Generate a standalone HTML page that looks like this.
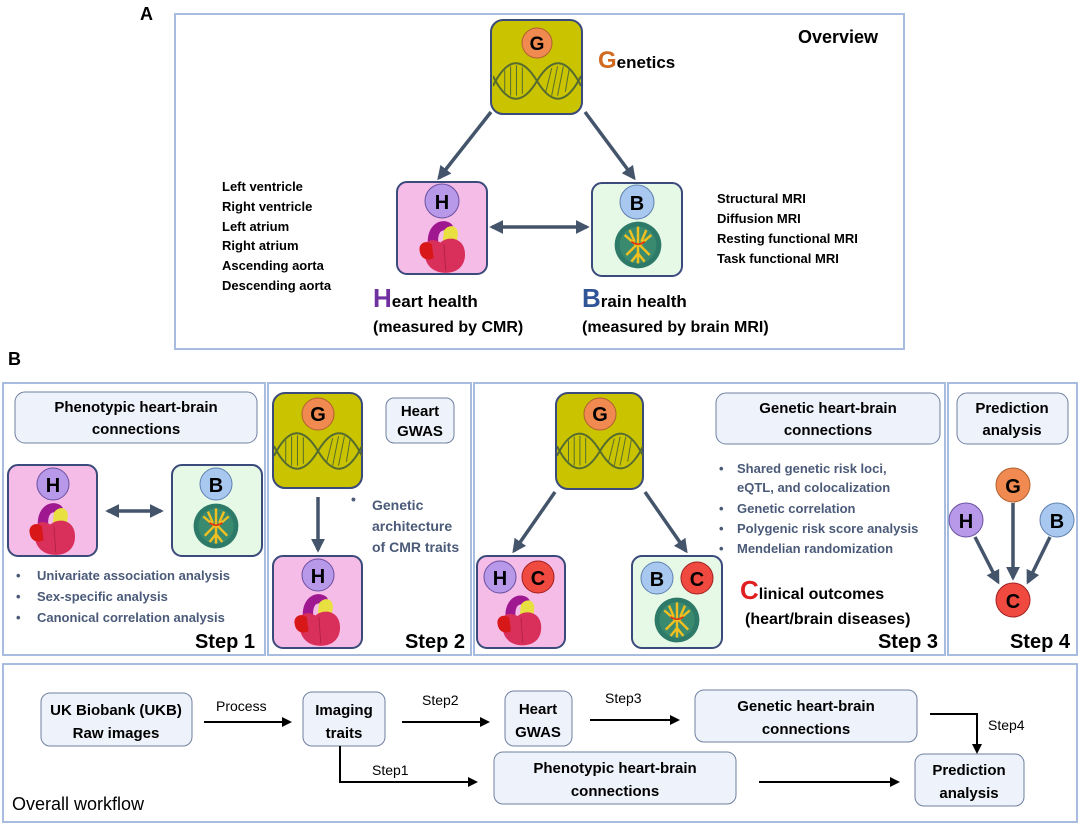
<!DOCTYPE html>
<html><head><meta charset="utf-8"><style>
body{margin:0;background:#fff}
svg{display:block;font-family:"Liberation Sans",sans-serif}
.b{font-weight:bold}
</style></head><body>
<svg width="1080" height="826" viewBox="0 0 1080 826" xmlns="http://www.w3.org/2000/svg">
<defs>
<marker id="ah" viewBox="0 0 10 10" refX="8" refY="5" markerWidth="4" markerHeight="4" orient="auto-start-reverse"><path d="M0,0L10,5L0,10z" fill="#44546a"/></marker>
<marker id="ak" viewBox="0 0 10 10" refX="8" refY="5" markerWidth="5" markerHeight="5" orient="auto"><path d="M0,0L10,5L0,10z" fill="#000"/></marker>
<symbol id="heart" viewBox="0 0 60 64">
<path d="M12,34 C8,12 22,0 34,4 C40,6 42,10 40,16 L30,14 C24,14 22,22 24,34 Z" fill="#a01890"/>
<path d="M30,14 C36,6 46,8 46,18 L44,34 L28,32 Z" fill="#e8e040"/>
<path d="M8,36 C6,26 16,22 26,28 C34,20 52,22 54,38 C56,54 46,63 32,63 C16,63 6,52 8,36Z" fill="#d8305a"/>
<path d="M2,38 C0,30 8,24 16,30 L18,46 C10,50 3,46 2,38Z" fill="#d81818"/>
<path d="M30,30 L32,60" stroke="#b02048" stroke-width="1" fill="none"/>
</symbol>
<symbol id="brain" viewBox="0 0 60 60">
<circle cx="30" cy="30" r="28" fill="#2e7a68"/>
<circle cx="30" cy="30" r="22" fill="#3a8a70"/>
<path d="M30,8 L30,52 M14,18 L28,30 L16,42 M46,18 L32,30 L44,42 M20,12 L26,26 M40,12 L34,26 M22,50 L30,40 L38,50" stroke="#f0c020" stroke-width="3" fill="none"/>
<path d="M22,26 Q30,32 38,26" stroke="#e03010" stroke-width="2" fill="none"/>
</symbol>
<symbol id="dna" viewBox="0 0 90 50">
<path d="M0,30 C15,0 30,0 45,25 C60,50 75,50 90,20" stroke="#556b2f" stroke-width="2" fill="none"/>
<path d="M0,20 C15,50 30,50 45,25 C60,0 75,0 90,30" stroke="#556b2f" stroke-width="2" fill="none"/>
<path d="M12,14 L12,36 M18,10 L18,40 M24,9 L24,40 M30,11 L30,38 M60,12 L54,36 M66,10 L60,40 M72,10 L66,40 M78,12 L74,36" stroke="#556b2f" stroke-width="1"/>
</symbol>
</defs>

<!-- Panel A -->
<text x="140" y="20" class="b" font-size="18">A</text>
<rect x="175" y="14" width="729" height="335" fill="none" stroke="#a8bce0" stroke-width="2"/>
<text x="798" y="43" class="b" font-size="18">Overview</text>
<rect x="491" y="20" width="91" height="94" rx="12" fill="#c9c300" stroke="#3a4a7a" stroke-width="2"/>
<use href="#dna" x="493" y="55" width="88" height="52"/>
<circle cx="537" cy="43" r="15" fill="#f08a50" stroke="#b06030"/>
<text x="537" y="50" text-anchor="middle" font-size="19" class="b">G</text>
<text x="598" y="68"><tspan fill="#d06a20" font-size="24" class="b">G</tspan><tspan font-size="17" class="b">enetics</tspan></text>
<line x1="491" y1="112" x2="439" y2="178" stroke="#44546a" stroke-width="3.5" marker-end="url(#ah)"/>
<line x1="585" y1="112" x2="634" y2="178" stroke="#44546a" stroke-width="3.5" marker-end="url(#ah)"/>
<rect x="397" y="182" width="90" height="92" rx="10" fill="#f6bce8" stroke="#3a4a7a" stroke-width="2"/>
<circle cx="442" cy="201" r="17" fill="#b898e8" stroke="#6a50a0"/>
<text x="442" y="209" text-anchor="middle" font-size="20" class="b">H</text>
<use href="#heart" x="418" y="218" width="52" height="56"/>
<rect x="592" y="183" width="90" height="93" rx="10" fill="#e6f8e6" stroke="#3a4a7a" stroke-width="2"/>
<circle cx="637" cy="202" r="17" fill="#a8c8f0" stroke="#6080b0"/>
<text x="637" y="210" text-anchor="middle" font-size="20" class="b">B</text>
<use href="#brain" x="613" y="220" width="50" height="50"/>
<line x1="492" y1="227" x2="587" y2="227" stroke="#44546a" stroke-width="3.5" marker-start="url(#ah)" marker-end="url(#ah)"/>
<g class="b" font-size="13">
<text x="222" y="191">Left ventricle</text><text x="222" y="211">Right ventricle</text><text x="222" y="231">Left atrium</text>
<text x="222" y="250">Right atrium</text><text x="222" y="270">Ascending aorta</text><text x="222" y="290">Descending aorta</text>
<text x="717" y="203">Structural MRI</text><text x="717" y="223">Diffusion MRI</text><text x="717" y="243">Resting functional MRI</text><text x="717" y="263">Task functional MRI</text>
</g>
<text x="373" y="307" class="b"><tspan fill="#7030a0" font-size="26">H</tspan><tspan font-size="17">eart health</tspan></text>
<text x="373" y="332" class="b" font-size="16">(measured by CMR)</text>
<text x="582" y="307" class="b"><tspan fill="#2f5597" font-size="26">B</tspan><tspan font-size="17">rain health</tspan></text>
<text x="582" y="332" class="b" font-size="16">(measured by brain MRI)</text>

<!-- Panel B -->
<text x="8" y="365" class="b" font-size="18">B</text>
<g fill="none" stroke="#a8bce0" stroke-width="2">
<rect x="3" y="383" width="262" height="272"/><rect x="268" y="383" width="203" height="272"/>
<rect x="474" y="383" width="471" height="272"/><rect x="948" y="383" width="129" height="272"/>
<rect x="3" y="664" width="1074" height="158"/>
</g>
<!-- step1 -->
<rect x="15" y="392" width="242" height="51" rx="10" fill="#eef2fa" stroke="#7080a0"/>
<text x="136" y="412" text-anchor="middle" class="b" font-size="15">Phenotypic heart-brain</text>
<text x="136" y="434" text-anchor="middle" class="b" font-size="15">connections</text>
<rect x="8" y="465" width="89" height="91" rx="10" fill="#f6bce8" stroke="#3a4a7a" stroke-width="2"/>
<circle cx="53" cy="484" r="16" fill="#b898e8" stroke="#6a50a0"/>
<text x="53" y="492" text-anchor="middle" font-size="20" class="b">H</text>
<use href="#heart" x="28" y="500" width="52" height="56"/>
<rect x="172" y="465" width="90" height="91" rx="10" fill="#e6f8e6" stroke="#3a4a7a" stroke-width="2"/>
<circle cx="216" cy="484" r="16" fill="#a8c8f0" stroke="#6080b0"/>
<text x="216" y="492" text-anchor="middle" font-size="20" class="b">B</text>
<use href="#brain" x="192" y="502" width="48" height="48"/>
<line x1="108" y1="511" x2="161" y2="511" stroke="#44546a" stroke-width="3.5" marker-start="url(#ah)" marker-end="url(#ah)"/>
<g class="b" font-size="13" fill="#4a5a78">
<text x="16" y="580">•</text><text x="37" y="580">Univariate association analysis</text>
<text x="16" y="601">•</text><text x="37" y="601">Sex-specific analysis</text>
<text x="16" y="622">•</text><text x="37" y="622">Canonical correlation analysis</text>
</g>
<text x="255" y="648" text-anchor="end" class="b" font-size="20">Step 1</text>
<!-- step2 -->
<rect x="273" y="393" width="89" height="95" rx="12" fill="#c9c300" stroke="#3a4a7a" stroke-width="2"/>
<use href="#dna" x="274" y="425" width="88" height="52"/>
<circle cx="318" cy="414" r="16" fill="#f08a50" stroke="#b06030"/>
<text x="318" y="421" text-anchor="middle" font-size="20" class="b">G</text>
<rect x="386" y="398" width="68" height="45" rx="8" fill="#eef2fa" stroke="#7080a0"/>
<text x="420" y="416" text-anchor="middle" class="b" font-size="15">Heart</text>
<text x="420" y="436" text-anchor="middle" class="b" font-size="15">GWAS</text>
<line x1="318" y1="497" x2="318" y2="550" stroke="#44546a" stroke-width="3.5" marker-end="url(#ah)"/>
<g class="b" font-size="14" fill="#4a5a78">
<text x="351" y="504">•</text><text x="372" y="510">Genetic</text><text x="372" y="531">architecture</text><text x="372" y="552">of CMR traits</text>
</g>
<rect x="273" y="556" width="89" height="92" rx="10" fill="#f6bce8" stroke="#3a4a7a" stroke-width="2"/>
<circle cx="318" cy="575" r="16" fill="#b898e8" stroke="#6a50a0"/>
<text x="318" y="583" text-anchor="middle" font-size="20" class="b">H</text>
<use href="#heart" x="293" y="591" width="52" height="56"/>
<text x="465" y="648" text-anchor="end" class="b" font-size="20">Step 2</text>
<!-- step3 -->
<rect x="556" y="393" width="87" height="96" rx="12" fill="#c9c300" stroke="#3a4a7a" stroke-width="2"/>
<use href="#dna" x="557" y="425" width="86" height="52"/>
<circle cx="600" cy="414" r="16" fill="#f08a50" stroke="#b06030"/>
<text x="600" y="421" text-anchor="middle" font-size="20" class="b">G</text>
<line x1="555" y1="492" x2="514" y2="551" stroke="#44546a" stroke-width="3.5" marker-end="url(#ah)"/>
<line x1="645" y1="492" x2="686" y2="551" stroke="#44546a" stroke-width="3.5" marker-end="url(#ah)"/>
<rect x="477" y="556" width="88" height="92" rx="10" fill="#f6bce8" stroke="#3a4a7a" stroke-width="2"/>
<circle cx="500" cy="577" r="16" fill="#b898e8" stroke="#6a50a0"/>
<text x="500" y="585" text-anchor="middle" font-size="20" class="b">H</text>
<circle cx="538" cy="577" r="16" fill="#f04a40" stroke="#a02020"/>
<text x="538" y="585" text-anchor="middle" font-size="20" class="b">C</text>
<use href="#heart" x="496" y="592" width="50" height="55"/>
<rect x="632" y="556" width="90" height="92" rx="10" fill="#e6f8e6" stroke="#3a4a7a" stroke-width="2"/>
<circle cx="657" cy="578" r="16" fill="#a8c8f0" stroke="#6080b0"/>
<text x="657" y="586" text-anchor="middle" font-size="20" class="b">B</text>
<circle cx="697" cy="578" r="16" fill="#f04a40" stroke="#a02020"/>
<text x="697" y="586" text-anchor="middle" font-size="20" class="b">C</text>
<use href="#brain" x="653" y="596" width="48" height="48"/>
<rect x="716" y="393" width="224" height="51" rx="10" fill="#eef2fa" stroke="#7080a0"/>
<text x="828" y="413" text-anchor="middle" class="b" font-size="15">Genetic heart-brain</text>
<text x="828" y="435" text-anchor="middle" class="b" font-size="15">connections</text>
<g class="b" font-size="13" fill="#4a5a78">
<text x="719" y="473">•</text><text x="737" y="473">Shared genetic risk loci,</text>
<text x="737" y="492">eQTL, and colocalization</text>
<text x="719" y="513">•</text><text x="737" y="513">Genetic correlation</text>
<text x="719" y="533">•</text><text x="737" y="533">Polygenic risk score analysis</text>
<text x="719" y="553">•</text><text x="737" y="553">Mendelian randomization</text>
</g>
<text x="740" y="599" class="b"><tspan fill="#e02020" font-size="26">C</tspan><tspan font-size="16">linical outcomes</tspan></text>
<text x="745" y="624" class="b" font-size="16">(heart/brain diseases)</text>
<text x="938" y="648" text-anchor="end" class="b" font-size="20">Step 3</text>
<!-- step4 -->
<rect x="957" y="393" width="111" height="51" rx="10" fill="#eef2fa" stroke="#7080a0"/>
<text x="1012" y="413" text-anchor="middle" class="b" font-size="15">Prediction</text>
<text x="1012" y="435" text-anchor="middle" class="b" font-size="15">analysis</text>
<line x1="1013" y1="503" x2="1013" y2="578" stroke="#44546a" stroke-width="3.5" marker-end="url(#ah)"/>
<line x1="975" y1="537" x2="998" y2="582" stroke="#44546a" stroke-width="3.5" marker-end="url(#ah)"/>
<line x1="1050" y1="537" x2="1028" y2="582" stroke="#44546a" stroke-width="3.5" marker-end="url(#ah)"/>
<circle cx="1013" cy="485" r="17" fill="#f08a50" stroke="#b06030"/>
<text x="1013" y="493" text-anchor="middle" font-size="20" class="b">G</text>
<circle cx="966" cy="520" r="17" fill="#b898e8" stroke="#6a50a0"/>
<text x="966" y="528" text-anchor="middle" font-size="20" class="b">H</text>
<circle cx="1057" cy="520" r="17" fill="#a8c8f0" stroke="#6080b0"/>
<text x="1057" y="528" text-anchor="middle" font-size="20" class="b">B</text>
<circle cx="1013" cy="600" r="17" fill="#f04a40" stroke="#a02020"/>
<text x="1013" y="608" text-anchor="middle" font-size="20" class="b">C</text>
<text x="1070" y="648" text-anchor="end" class="b" font-size="20">Step 4</text>
<!-- workflow -->
<g fill="#eef2fa" stroke="#7080a0">
<rect x="41" y="693" width="151" height="53" rx="9"/>
<rect x="303" y="692" width="82" height="54" rx="9"/>
<rect x="505" y="691" width="67" height="55" rx="9"/>
<rect x="695" y="690" width="222" height="52" rx="9"/>
<rect x="494" y="752" width="242" height="52" rx="9"/>
<rect x="915" y="754" width="109" height="52" rx="9"/>
</g>
<g class="b" font-size="15" text-anchor="middle">
<text x="116" y="715">UK Biobank (UKB)</text><text x="116" y="738">Raw images</text>
<text x="344" y="715">Imaging</text><text x="344" y="738">traits</text>
<text x="538" y="714">Heart</text><text x="538" y="737">GWAS</text>
<text x="806" y="711">Genetic heart-brain</text><text x="806" y="734">connections</text>
<text x="615" y="773">Phenotypic heart-brain</text><text x="615" y="796">connections</text>
<text x="969" y="775">Prediction</text><text x="969" y="798">analysis</text>
</g>
<g font-size="14">
<text x="216" y="711">Process</text><text x="422" y="705">Step2</text><text x="605" y="703">Step3</text>
<text x="988" y="730">Step4</text><text x="372" y="775">Step1</text>
</g>
<g stroke="#000" stroke-width="2" fill="none">
<line x1="204" y1="722" x2="290" y2="722" marker-end="url(#ak)"/>
<line x1="402" y1="722" x2="488" y2="722" marker-end="url(#ak)"/>
<line x1="590" y1="720" x2="678" y2="720" marker-end="url(#ak)"/>
<polyline points="930,714 977,714 977,752" marker-end="url(#ak)"/>
<polyline points="340,746 340,782 476,782" marker-end="url(#ak)"/>
<line x1="759" y1="782" x2="898" y2="782" marker-end="url(#ak)"/>
</g>
<text x="12" y="810" font-size="18">Overall workflow</text>
</svg>
</body></html>
